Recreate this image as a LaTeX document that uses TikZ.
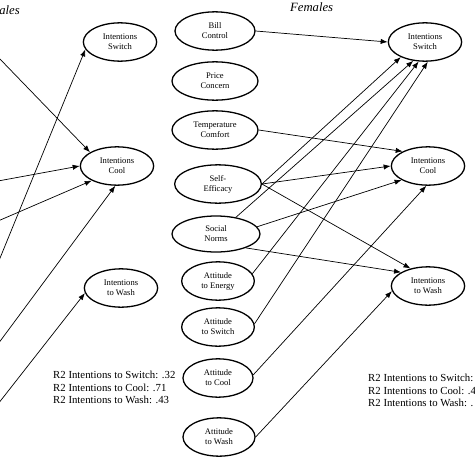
\documentclass[tikz,border=0pt]{standalone}
\usepackage{fontspec}
\setmainfont{Liberation Serif}
\usepackage{tikz}
\usetikzlibrary{arrows.meta}
\usetikzlibrary{shapes}
\tikzstyle{latent} = [draw, ellipse, line width=1.1pt, inner sep=0pt, align=center, minimum height=1.15cm, minimum width=2.2cm, font=\fontsize{7.3}{8.6}\selectfont]
\tikzstyle{arrow} = [line width=0.6pt, -{Latex[length=6pt,width=4.5pt]}]
\tikzstyle{rsq} = [anchor=north west, align=left, inner sep=0pt, font=\fontsize{9.2}{10.7}\selectfont]

\begin{document}
\begin{tikzpicture}[x=0.03cm, y=-0.03cm]
    \clip (0,0) rectangle (474,474);

    % Males (cut off on the left)
    \node[anchor=base east, inner sep=0pt, font=\itshape\fontsize{10.8}{13}\selectfont] (mtitle) at (20,14) {Males};
    \node[latent] (mIsw) at (120,42) {Intentions\\Switch};
    \node[latent] (mIco) at (117,166) {Intentions\\Cool};
    \node[latent] (mIwa) at (121,288) {Intentions\\to Wash};
    \coordinate (m1) at (-2,57);
    \coordinate (m2) at (-2,181);
    \coordinate (m3) at (-2,221);
    \coordinate (m4) at (-2,263);
    \coordinate (m5) at (-2,344);
    \coordinate (m6) at (-2,404);
    \draw[arrow] (m1) -- (mIco.153);
    \draw[arrow] (m2) -- (mIco.180);
    \draw[arrow] (m3) -- (mIco.210);
    \draw[arrow] (m4) -- (mIsw.192);
    \draw[arrow] (m5) -- (mIco.265);
    \draw[arrow] (m6) -- (mIwa.188);
    \node[rsq] (mr2) at (53,371) {R2 Intentions to Switch: .32\\R2 Intentions to Cool: .71\\R2 Intentions to Wash: .43};

    % Females
    \node[anchor=base west, inner sep=0pt, font=\itshape\fontsize{10.8}{13}\selectfont] (ftitle) at (290,11) {Females};
    \node[latent, minimum width=2.4cm] (bill) at (215,31) {Bill\\Control};
    \node[latent, minimum width=2.58cm] (price) at (215,81) {Price\\Concern};
    \node[latent, minimum width=2.58cm] (temp) at (215,130) {Temperature\\Comfort};
    \node[latent, minimum width=2.6cm] (selfeff) at (218,184) {Self-\\Efficacy};
    \node[latent, minimum width=2.64cm, minimum height=1.08cm] (norms) at (216,234) {Social\\Norms};
    \node[latent, minimum width=2.18cm] (attEnergy) at (218,281) {Attitude\\to Energy};
    \node[latent, minimum width=2.18cm] (attSwitch) at (218,327) {Attitude\\to Switch};
    \node[latent, minimum width=2.1cm] (attCool) at (218,378) {Attitude\\to Cool};
    \node[latent, minimum width=2.16cm] (attWash) at (219,437) {Attitude\\to Wash};

    \node[latent] (fIsw) at (425,42) {Intentions\\Switch};
    \node[latent] (fIco) at (428,166) {Intentions\\Cool};
    \node[latent] (fIwa) at (428,286) {Intentions\\to Wash};

    \draw[arrow] (bill.east) -- (fIsw.west);
    \draw[arrow] (temp.east) -- (fIco.150);
    \draw[arrow] (selfeff.east) -- (fIsw.212);
    \draw[arrow] (selfeff.east) -- (fIco.180);
    \draw[arrow] (selfeff.east) -- (fIwa.135);
    \draw[arrow] (norms.40) -- (fIsw.238);
    \draw[arrow] (norms.10) -- (fIco.208);
    \draw[arrow] (norms.335) -- (fIwa.153);
    \draw[arrow] (attEnergy.12) -- (fIsw.252);
    \draw[arrow] (attSwitch.5) -- (fIsw.278);
    \draw[arrow] (attCool.5) -- (fIco.265);
    \draw[arrow] (attWash.east) -- (fIwa.188);
    \node[rsq] (fr2) at (368,374) {R2 Intentions to Switch:\\R2 Intentions to Cool: .4\\R2 Intentions to Wash: .};
\end{tikzpicture}
\end{document}
